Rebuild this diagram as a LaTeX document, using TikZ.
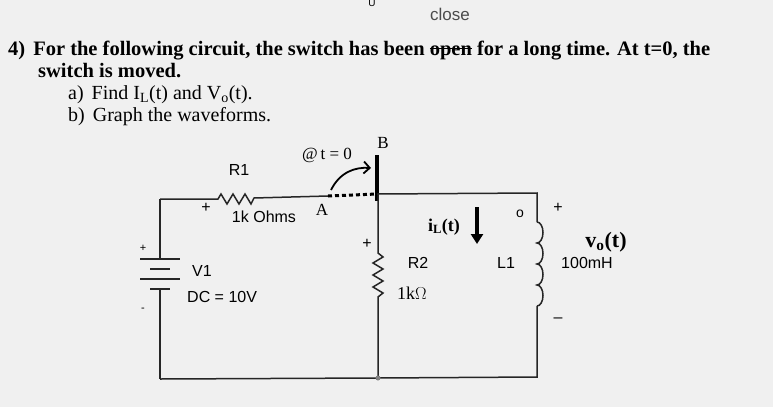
\documentclass[tikz,border=0pt]{standalone}
\usepackage{fontspec}
\setmainfont{Liberation Serif}
\newfontfamily\lsans{Liberation Sans}
\usetikzlibrary{arrows.meta}
\newcommand{\strk}[1]{\leavevmode\rlap{\rule[0.28em]{\widthof{#1}}{1pt}}#1}
\usepackage{calc}
\begin{document}
\begin{tikzpicture}[x=1pt,y=-1pt,
  wire/.style={line width=1.5pt,black!85},
  lab/.style={font=\lsans\fontsize{16}{16}\selectfont,inner sep=0pt},
  slab/.style={font=\fontsize{17}{17}\selectfont,inner sep=0pt},
  hd/.style={font=\bfseries\fontsize{20.5}{20}\selectfont,inner sep=0pt,anchor=base west},
  rg/.style={font=\fontsize{20}{20}\selectfont,inner sep=0pt,anchor=base west}]
\fill[black!6] (0,0) rectangle (773,407);
\useasboundingbox (0,0) rectangle (773,407);
% header
\node[hd] (q) at (8,55) {4)\hspace{8pt}For the following circuit, the switch has been \strk{open} for a long time. At t=0, the};
\node[hd] (q2) at (38,77) {switch is moved.};
\node[rg] (qa) at (68,99) {a)\hspace{8pt}Find I\textsubscript{L}(t) and V\textsubscript{o}(t).};
\node[rg] (qb) at (68,121) {b)\hspace{8pt}Graph the waveforms.};
\node[font=\fontsize{17}{17}\selectfont\lsans,inner sep=0pt,black!70] (cl) at (450,14) {close};
\node[font=\fontsize{10}{10}\selectfont\lsans,inner sep=0pt] (u) at (372,3) {U};
% coordinates
\coordinate (TL) at (160,199);
\coordinate (BL) at (160,379);
\coordinate (A) at (328,196);
\coordinate (B) at (377,194);
\coordinate (TR) at (537,193);
\coordinate (BR) at (537,377);
\coordinate (RB) at (378,378);
% battery
\draw[wire] (TL) -- (160,259);
\draw[wire] (140,259) -- (180,259);
\draw[wire] (150,269) -- (170,269);
\draw[wire] (140,279) -- (180,279);
\draw[wire] (150,289) -- (170,289);
\draw[wire] (160,289) -- (BL);
\node[lab,font=\lsans\fontsize{11}{11}\selectfont] (bp) at (143,248) {+};
\node[lab,font=\lsans\fontsize{11}{11}\selectfont] (bm) at (143,310) {-};
\node[lab] (v1) at (202,271) {V1};
\node[lab,anchor=west] (dc) at (187,297) {DC = 10V};
% R1
\draw[wire] (TL) -- (218,199) -- (221,194) -- (227,204) -- (233,194) -- (239,204) -- (245,194) -- (251,204) -- (254,198) -- (A);
\node[lab] (r1) at (239,170) {R1};
\node[lab] (r1v) at (264,217) {1k Ohms};
\node[lab] (r1p) at (206,208) {+};
\node[slab] (al) at (322,210) {A};
% switch
\draw[line width=3pt,dash pattern=on 4pt off 3pt] (A) -- (B);
\draw[line width=3.5pt] (377,155) -- (377,201);
\node[slab] (bl) at (383,143) {B};
\node[slab] (t0) at (327,155) {@\,t = 0};
\draw[line width=1.8pt,-{Straight Barb[length=6pt]}] (331,190) .. controls (340,172) and (355,167) .. (371,168);
% top right
\draw[wire] (B) -- (TR) -- (537,222);
\draw[wire] (537,222) arc (-90:90:6 and 10.5) arc (-90:90:6 and 10.5) arc (-90:90:6 and 10.5) arc (-90:90:6 and 10.5);
\draw[wire] (537,306) -- (BR) -- (RB) -- (BL);
\node[lab,font=\lsans\fontsize{14}{14}\selectfont] (o) at (520,214) {o};
\node[lab] (lp) at (558,208) {+};
\node[lab] (lm) at (558,320) {–};
\node[lab] (l1) at (506,263) {L1};
\node[lab] (lv) at (587,263) {100mH};
\node[font=\bfseries\fontsize{22}{22}\selectfont,inner sep=0pt] (vo) at (606,242) {v\textsubscript{o}(t)};
% R2
\draw[wire] (378,194) -- (378,253) -- (383,257) -- (373,263) -- (383,269) -- (373,275) -- (383,281) -- (373,287) -- (383,293) -- (378,297) -- (RB);
\fill[gray] (RB) circle (2.5pt);
\node[lab] (r2p) at (367,244) {+};
\node[lab] (r2) at (418,263) {R2};
\node[slab,font=\fontsize{18}{18}\selectfont] (r2v) at (412,293) {1k$\Omega$};
% iL
\node[font=\bfseries\fontsize{18}{18}\selectfont,inner sep=0pt] (il) at (444,227) {i\textsubscript{L}(t)};
\coordinate (ia) at (477,207);
\coordinate (ib) at (477,244);
\draw[line width=3.5pt,-{Triangle[length=10pt,width=12pt]}] (ia) -- (ib);
\end{tikzpicture}
\end{document}
